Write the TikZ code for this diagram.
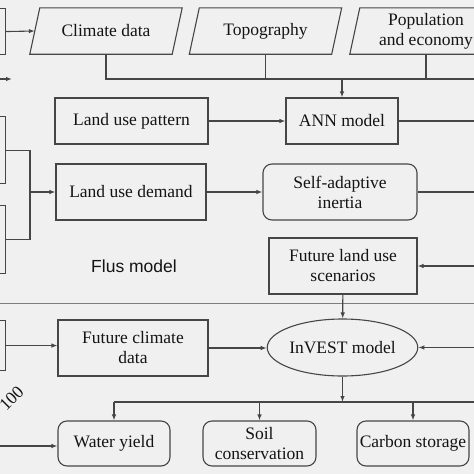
\documentclass[tikz,border=0pt]{standalone}
\usepackage{fontspec}
\setmainfont{Liberation Serif}
\setsansfont{Liberation Sans}
\usetikzlibrary{arrows.meta,shapes.geometric}
\definecolor{bg}{RGB}{240,240,240}
\definecolor{ln}{RGB}{70,70,70}
\definecolor{tx}{RGB}{20,20,20}
\begin{document}
\begin{tikzpicture}[x=1pt,y=-1pt,
  font=\fontsize{17.5}{20}\selectfont,
  every node/.style={text=tx},
  box/.style={draw=ln, line width=1.1pt, inner sep=0pt, align=center},
  rbox/.style={box, rounded corners=9pt},
  parabox/.style={inner sep=0pt, align=center, minimum width=152pt, minimum height=46pt},
  conn/.style={draw=ln, line width=1.1pt},
  arr/.style={conn, -{Latex[length=6pt,width=4.5pt]}},
  sep/.style={draw=ln!70, line width=1pt}]
\useasboundingbox (0,0) rectangle (474,474);
\fill[bg] (0,0) rectangle (474,474);
\clip (0,0) rectangle (474,474);
% nodes
\node[box, minimum width=70pt, minimum height=46pt, anchor=north east] (inTL) at (6,8) {};
\node[parabox] (clim) at (106,31) {Climate data};
\node[parabox] (topo) at (265.5,31) {Topography};
\node[parabox] (pop) at (426,31) {Population\\and economy};
\foreach \n in {clim,topo,pop}{
  \draw[conn] (\n.south west) -- ([xshift=10pt]\n.north west) -- (\n.north east)
    -- ([xshift=-10pt]\n.south east) -- cycle;
}
\node[box, minimum width=153pt, minimum height=46pt] (lup) at (131.5,121) {Land use pattern};
\node[box, minimum width=112pt, minimum height=46pt] (ann) at (342,121) {ANN model};
\node[box, minimum width=70pt, minimum height=67pt, anchor=north east] (inL2) at (6,116) {};
\node[box, minimum width=70pt, minimum height=68pt, anchor=north east] (inL3) at (6,205) {};
\node[box, minimum width=150pt, minimum height=56pt] (lud) at (131,192) {Land use demand};
\node[rbox, minimum width=154pt, minimum height=56pt] (sai) at (340,192) {Self-adaptive\\inertia};
\node[box, minimum width=148pt, minimum height=56pt] (fls) at (343,266) {Future land use\\scenarios};
\node[font=\sffamily\fontsize{17.5}{20}\selectfont] (flus) at (134,266) {Flus model};
\node[box, minimum width=70pt, minimum height=50pt, anchor=north east] (inL4) at (6,320) {};
\node[box, minimum width=150pt, minimum height=56pt] (fcd) at (133,348) {Future climate\\data};
\node[draw=ln, line width=1.1pt, ellipse, minimum width=149pt, minimum height=57pt, inner sep=0pt] (inv) at (342.5,347.5) {InVEST model};
\node[rbox, minimum width=112pt, minimum height=45pt] (wy) at (114,443.5) {Water yield};
\node[rbox, minimum width=113pt, minimum height=45pt] (sc) at (259.5,443.5) {Soil\\conservation};
\node[rbox, minimum width=112pt, minimum height=45pt] (cs) at (413,443.5) {Carbon storage};
\node[rotate=45, anchor=base east, inner sep=0pt] (yr) at (25,393) {100};
% connectors
\draw[arr] (inTL.east) -- ([xshift=5pt]clim.west);
\coordinate (inA) at (-10,79);
\coordinate (inAend) at (12,79);
\draw[arr] (inA) -- (inAend);
\coordinate (busR) at (480,79);
\draw[conn] (clim.south) |- (busR);
\draw[conn] (topo.south) -- (topo.south |- busR);
\draw[conn] (pop.south) -- (pop.south |- busR);
\draw[arr] (ann.north |- busR) -- (ann.north);
\draw[arr] (lup) -- (ann);
\coordinate (annR) at (480,121);
\draw[conn] (ann.east) -- (annR);
\coordinate (jn) at (30,192);
\draw[conn] (inL2.east) -| (jn) |- (inL3.east);
\draw[arr] (jn) -- (lud.west);
\draw[arr] (lud) -- (sai);
\coordinate (saiR) at (480,192);
\draw[conn] (sai.east) -- (saiR);
\coordinate (flsR) at (480,266);
\draw[arr] (flsR) -- (fls.east);
\coordinate (sepL) at (-5,303);
\coordinate (sepR) at (480,303);
\draw[sep] (sepL) -- (sepR);
\draw[arr] (inL4.east) -- (inL4.east -| fcd.west);
\draw[arr] (fcd.east) -- (fcd.east -| inv.west);
\coordinate (invR) at (480,347.5);
\draw[arr] (invR) -- (inv.east);
\draw[arr] (fls) -- (inv);
\coordinate (bus2) at (342.5,402);
\coordinate (bus2R) at (480,402);
\draw[arr] (inv.south) -- (bus2);
\draw[conn] (wy.north |- bus2) -- (bus2R);
\draw[arr] (wy.north |- bus2) -- (wy.north);
\draw[arr] (sc.north |- bus2) -- (sc.north);
\draw[arr] (cs.north |- bus2) -- (cs.north);
\coordinate (inW) at (-5,446);
\draw[arr] (inW) -- (inW -| wy.west);
\end{tikzpicture}
\end{document}
